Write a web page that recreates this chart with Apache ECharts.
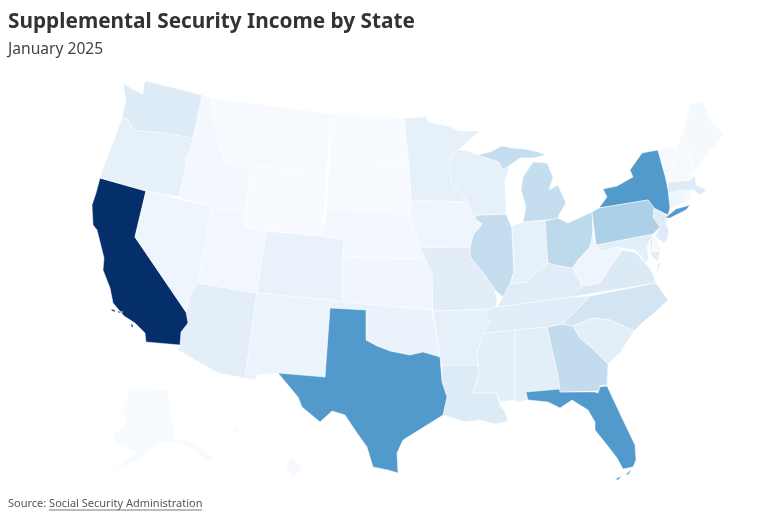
<!DOCTYPE html>
<html><head><meta charset="utf-8">
<style>html,body{margin:0;padding:0;background:#fff}#c{width:768px;height:518px}</style>
<script src="https://cdn.jsdelivr.net/npm/echarts@6/dist/echarts.min.js"></script>
</head><body><div id="c"></div>
<script>
const titleText = 'Supplemental Security Income by State';
const subtitleText = 'January 2025';
const sourceLabel = 'Source: ';
const sourceLink = 'Social Security Administration';

// Recipients in thousands, estimated from the shading.
const stateNames = ['Alabama','Alaska','Arizona','Arkansas','California','Colorado','Connecticut','Delaware','District of Columbia','Florida','Georgia','Hawaii','Idaho','Illinois','Indiana','Iowa','Kansas','Kentucky','Louisiana','Maine','Maryland','Massachusetts','Michigan','Minnesota','Mississippi','Missouri','Montana','Nebraska','Nevada','New Hampshire','New Jersey','New Mexico','New York','North Carolina','North Dakota','Ohio','Oklahoma','Oregon','Pennsylvania','Rhode Island','South Carolina','South Dakota','Tennessee','Texas','Utah','Vermont','Virginia','Washington','West Virginia','Wisconsin','Wyoming'];
const stateValues = [115,6,115,100,1050,80,50,18,25,600,235,15,25,225,95,55,45,130,145,20,110,135,225,100,110,120,12,30,50,12,135,70,600,180,5,250,75,95,305,25,110,12,130,600,35,10,150,145,50,100,5];

const colorStops = ['#f8fbff','#dceaf6','#aed1e7','#7fb5d9','#5299cc','#3a7fb8','#1d5a98','#052f6b'];

// State outlines: the map's own base geometry, in page pixels.
const outlines = {
 Washington:[[[123,83],[134,90],[143,94],[144,84],[146,81],[202,95],[193,138],[176,135],[157,132],[137,131],[132,128],[128,119],[122,118],[126,100]]],
 Oregon:[[[122,118],[128,119],[132,128],[137,131],[157,132],[176,135],[193,138],[190,150],[185,160],[186,167],[178,197],[146,191],[100,178],[102,170],[112,145]]],
 California:[[[100,178],[146,191],[135,237],[186,312],[188,323],[181,332],[180,345],[146,342],[145,333],[135,323],[124,316],[113,303],[110,288],[103,270],[104,258],[97,230],[93,225],[92,205],[96,193]],[[111,309],[115,310],[115,312],[112,311]],[[118,311],[123,312],[118,313]],[[131,324],[133,325],[133,328],[131,326]],[[129,332],[131,335],[130,335]]],
 Nevada:[[[146,191],[212,207],[198,283],[190,295],[186,312],[135,237]]],
 Idaho:[[[202,95],[212,98],[214,122],[218,142],[226,165],[250,165],[246,213],[212,207],[178,197],[186,167],[185,160],[190,150],[193,138]]],
 Montana:[[[212,98],[331,114],[327,173],[250,165],[226,165],[218,142],[214,122]]],
 Wyoming:[[[250,165],[327,173],[322,236],[266,231],[244,227],[246,213]]],
 Utah:[[[212,207],[246,213],[244,227],[266,231],[257,293],[198,283]]],
 Colorado:[[[266,231],[322,236],[344,240],[343,257],[342,302],[331,300],[257,293]]],
 Arizona:[[[198,283],[257,293],[245,378],[218,373],[178,350],[180,345],[181,332],[188,323],[186,312],[190,295]]],
 'New Mexico':[[[257,293],[331,300],[330,308],[325,377],[278,373],[257,375],[256,380],[245,378]]],
 Texas:[[[330,308],[366,310],[366,340],[377,346],[390,351],[410,355],[423,352],[440,357],[442,382],[447,397],[443,415],[427,425],[403,440],[397,453],[398,473],[388,470],[373,467],[370,457],[367,447],[357,433],[345,415],[332,411],[320,422],[302,407],[298,397],[278,373],[325,377]]],
 Oklahoma:[[[331,300],[342,302],[432,310],[433,311],[440,357],[423,352],[410,355],[390,351],[377,346],[366,340],[366,310],[330,308]]],
 Kansas:[[[343,257],[425,259],[432,272],[432,310],[342,302]]],
 Nebraska:[[[327,208],[395,212],[410,217],[415,232],[420,248],[425,259],[343,257],[344,240],[322,236]]],
 'South Dakota':[[[329,163],[409,167],[411,198],[410,217],[395,212],[327,208]]],
 'North Dakota':[[[331,114],[404,118],[409,167],[329,163]]],
 Minnesota:[[[404,118],[425,117],[425,113],[428,122],[448,126],[460,131],[480,131],[458,150],[452,155],[449,168],[452,183],[465,198],[467,202],[411,200],[409,167]]],
 Iowa:[[[411,200],[467,202],[474,218],[482,224],[473,235],[470,247],[420,248],[415,232],[410,217]]],
 Wisconsin:[[[458,150],[468,151],[478,155],[498,162],[503,170],[510,166],[505,180],[506,214],[478,215],[474,218],[467,202],[465,198],[452,183],[449,168],[452,155]]],
 Michigan:[[[523,177],[533,162],[547,163],[553,177],[549,190],[558,185],[566,203],[559,215],[558,219],[523,222],[526,207],[521,190]],[[477,155],[490,152],[502,146],[512,148],[525,149],[538,152],[546,155],[533,158],[520,158],[510,165],[503,170],[498,162]]],
 Illinois:[[[478,215],[506,214],[512,228],[514,272],[510,284],[503,297],[495,290],[483,273],[470,257],[470,247],[473,235],[482,224],[474,218]]],
 Indiana:[[[512,226],[523,222],[545,221],[548,263],[537,272],[527,282],[510,284],[514,272]]],
 Ohio:[[[545,221],[558,218],[568,223],[592,212],[593,237],[590,247],[578,260],[573,268],[560,266],[548,263]]],
 Pennsylvania:[[[592,212],[599,208],[648,200],[654,208],[653,217],[660,227],[653,234],[596,245]]],
 'New York':[[[599,208],[607,197],[603,189],[617,186],[633,177],[630,170],[642,153],[658,150],[665,175],[668,190],[670,208],[668,215],[654,208],[648,200]],[[665,218],[676,209],[690,205],[686,210],[670,218]]],
 'New Jersey':[[[654,208],[668,216],[666,224],[669,230],[667,240],[663,243],[655,236],[660,227],[653,217]]],
 Connecticut:[[[668,193],[684,190],[686,202],[670,209]]],
 'Rhode Island':[[[684,190],[690,190],[691,199],[686,202]]],
 Massachusetts:[[[668,182],[690,180],[695,175],[696,185],[707,190],[700,195],[694,190],[684,190],[668,193]]],
 Vermont:[[[658,150],[677,146],[673,163],[671,182],[668,182],[665,175]]],
 'New Hampshire':[[[684,130],[694,172],[690,180],[671,182],[673,163],[677,146]]],
 Maine:[[[690,104],[703,102],[711,122],[724,133],[713,147],[697,167],[694,172],[684,130]]],
 Delaware:[[[653,234],[657,240],[661,250],[652,252]]],
 Maryland:[[[596,245],[653,234],[650,240],[647,248],[649,258],[646,263],[640,255],[635,250],[628,249],[622,248],[617,247],[602,252]],[[653,234],[652,252],[660,251],[658,262],[651,256],[650,240]]],
 'District of Columbia':[[[636,251],[639,250],[639,253]]],
 Virginia:[[[622,250],[635,252],[640,257],[647,265],[652,272],[656,283],[571,297],[582,286],[600,283],[610,267]],[[658,263],[661,263],[656,275]]],
 'West Virginia':[[[593,232],[596,245],[602,252],[617,247],[622,250],[610,267],[600,283],[590,285],[582,286],[573,268],[578,260],[590,247]]],
 Kentucky:[[[503,297],[510,284],[527,282],[537,272],[548,263],[560,266],[573,268],[582,286],[571,297],[513,305],[497,307]]],
 Tennessee:[[[496,307],[513,305],[571,297],[590,296],[575,312],[562,324],[547,327],[515,330],[484,333],[490,322],[485,315],[490,309]]],
 'North Carolina':[[[590,296],[656,283],[668,300],[652,315],[643,322],[634,331],[610,320],[593,318],[573,326],[562,324],[575,312]]],
 'South Carolina':[[[573,326],[593,318],[610,320],[634,331],[620,353],[608,364],[592,348],[580,338]]],
 Georgia:[[[547,327],[562,324],[573,326],[580,338],[592,348],[608,364],[607,385],[600,386],[599,391],[560,392],[558,375]]],
 Alabama:[[[515,330],[547,327],[558,375],[560,392],[527,392],[528,400],[518,402],[515,400]]],
 Mississippi:[[[484,333],[515,330],[515,400],[500,402],[497,393],[473,393],[479,372],[477,353],[481,340]]],
 Louisiana:[[[442,365],[478,365],[479,372],[473,393],[497,393],[500,405],[505,412],[508,421],[495,424],[480,420],[465,422],[443,415],[447,397],[442,382]]],
 Arkansas:[[[433,311],[490,309],[485,315],[490,322],[481,340],[477,353],[478,365],[442,365],[440,357]]],
 Missouri:[[[420,248],[470,247],[470,257],[483,273],[495,290],[497,300],[496,307],[490,309],[433,311],[432,272],[425,259]]],
 Florida:[[[526,392],[560,389],[560,392],[595,392],[598,393],[599,387],[607,386],[623,420],[635,445],[636,460],[633,467],[623,469],[617,458],[607,445],[595,430],[595,422],[588,410],[572,400],[560,408],[548,402],[528,400]],[[615,479],[622,476],[618,480]],[[626,474],[632,469],[628,475]]],
 Alaska:[[[128,388],[168,390],[175,438],[193,443],[215,458],[207,460],[190,448],[177,442],[157,443],[143,457],[110,473],[102,477],[123,463],[137,452],[118,445],[114,437],[115,433],[127,423],[122,410],[127,400]]],
 Hawaii:[[[287,463],[293,458],[302,468],[293,477],[287,470]],[[233,430],[238,429],[237,433]],[[256,437],[260,439],[258,441]],[[271,444],[275,446],[273,447]],[[282,449],[286,451],[284,452]]]
};

const geoJson = {type:'FeatureCollection',features:stateNames.map(n=>({
  type:'Feature',properties:{name:n},
  geometry:{type:'MultiPolygon',coordinates:outlines[n].map(r=>[r.concat([r[0]])])}
}))};
echarts.registerMap('usa',geoJson);

const font = '"Noto Sans","Open Sans",sans-serif';
const chart = echarts.init(document.getElementById('c'),null,{renderer:'canvas'});
chart.setOption({
  animation:false,
  backgroundColor:'#fff',
  title:[
    {text:titleText,left:8,top:12,padding:0,textStyle:{fontFamily:font,fontSize:20.8,fontWeight:700,color:'#333'}},
    {text:subtitleText,left:8,top:42,padding:0,textStyle:{fontFamily:font,fontSize:15.6,fontWeight:400,color:'#444'}},
    {text:sourceLabel+sourceLink,left:8,top:498,padding:0,textStyle:{fontFamily:font,fontSize:11,fontWeight:400,color:'#555'}}
  ],
  visualMap:{show:false,type:'continuous',min:0,max:1050,seriesIndex:0,inRange:{color:colorStops}},
  series:[{
    type:'map',map:'usa',
    projection:{project:p=>p,unproject:p=>p},
    boundingCoords:[[0,0],[768,518]],
    left:0,top:0,width:768,height:518,
    roam:false,silent:true,
    label:{show:false},
    itemStyle:{borderColor:'#fff',borderWidth:0.5},
    data:stateNames.map((n,i)=>({name:n,value:stateValues[i]}))
  }],
  graphic:[{type:'line',silent:true,shape:{x1:49,y1:510,x2:202,y2:510},style:{stroke:'#555',lineWidth:0.8}}]
});
</script></body></html>
